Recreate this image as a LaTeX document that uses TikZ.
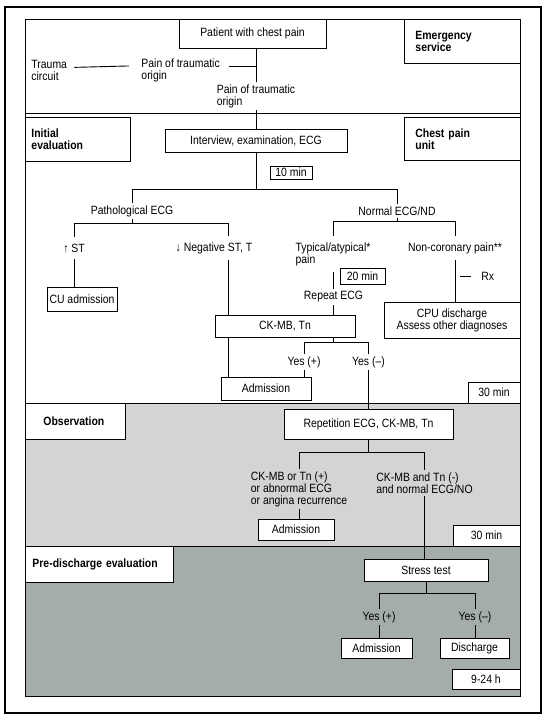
\documentclass[tikz,border=0pt]{standalone}
\usepackage{fontspec}
\setmainfont{Liberation Sans}[FakeStretch=0.87]
\definecolor{obsgray}{RGB}{212,212,212}
\definecolor{predark}{RGB}{165,173,171}
\newcommand{\flowfont}{\fontsize{12}{12}\selectfont}
\begin{document}
\begin{tikzpicture}[x=1pt, y=-1pt, line width=0.9pt,
    every node/.style={font=\flowfont},
    box/.style={draw, fill=white, inner sep=1pt, align=center},
    lbl/.style={inner sep=2pt, align=left},
    gap/.style={inner xsep=2pt, inner ysep=6pt, align=left},
    stage/.style={draw, fill=white, font=\flowfont\bfseries, align=left, anchor=north west, inner ysep=0pt}]
      \useasboundingbox (0,0) rectangle (547,722);
      \fill[white] (0,0) rectangle (547,722);
      \draw[fill=obsgray] (25,403) rectangle (520,546);
      \draw[fill=predark] (25,546) rectangle (520,696);
      \draw (25,19) rectangle (520,696);
      \draw[line width=1.8pt] (5,7) rectangle (541,713);
      \draw (25,113) -- (520,113);

      \node[stage, text width=94pt, inner xsep=11pt, minimum height=44pt](emerg) at (404.00, 19.00){Emergency\\service};
      \node[stage, text width=93pt, inner xsep=6pt, minimum height=44pt](initial) at (25.00,117.00){Initial\\evaluation};
      \node[stage, text width=94pt, inner xsep=11pt, minimum height=43pt](cpunit) at (404.00,117.00){Chest pain\\unit};
      \node[stage, text width=64pt, inner xsep=18pt, minimum height=36pt](observ) at (25.00,403.00){Observation};
      \node[stage, text width=134pt, inner xsep=7pt, minimum height=36pt](predis) at (25.00,546.00){Pre-discharge evaluation};

      \node[box, minimum width=147pt, minimum height=29pt](patient) at (252.50, 33.50){Patient with chest pain};
      \node[box, minimum width=182pt, minimum height=23pt](interview) at (256.00,140.50){Interview, examination, ECG};
      \node[box, minimum width=42pt, minimum height=13pt, inner sep=0pt](tenmin) at (291.00,172.50){10 min};
      \node[box, minimum width=70pt, minimum height=24pt](cuadm) at (82.00,299.00){CU admission};
      \node[box, minimum width=45pt, minimum height=16pt](twentymin) at (362.50,276.00){20 min};
      \node[box, minimum width=140pt, minimum height=22pt](ckmb) at (285.00,326.00){CK-MB, Tn};
      \node[box, minimum width=136pt, minimum height=36pt](cpudis) at (452.00,320.00){CPU discharge\\Assess other diagnoses};
      \node[box, minimum width=90pt, minimum height=23pt](admA) at (266.00,388.50){Admission};
      \node[box, minimum width=52pt, minimum height=21pt](thirtyA) at (494.00,392.50){30 min};
      \node[box, minimum width=169pt, minimum height=30pt](repet) at (368.50,424.00){Repetition ECG, CK-MB, Tn};
      \node[box, minimum width=76pt, minimum height=21pt](admB) at (296.00,529.50){Admission};
      \node[box, minimum width=67pt, minimum height=21pt](thirtyB) at (486.50,535.50){30 min};
      \node[box, minimum width=124pt, minimum height=22pt](stress) at (426.00,570.00){Stress test};
      \node[box, minimum width=71pt, minimum height=20pt](admC) at (376.50,648.00){Admission};
      \node[box, minimum width=69pt, minimum height=20pt](discharge) at (474.50,648.00){Discharge};
      \node[box, minimum width=68pt, minimum height=20pt](ninetf) at (486.00,679.00){9-24 h};

      \node[lbl, anchor=west](trauma) at (29.00, 70.00){Trauma\\circuit};
      \node[lbl, anchor=west](paintra) at (139.00, 70.00){Pain of traumatic\\origin};
      \node[lbl](paintrb) at (256.00, 96.00){Pain of traumatic\\origin};
      \node[lbl](patho) at (132.00,211.00){Pathological ECG};
      \node[lbl](normal) at (397.00,211.00){Normal ECG/ND};
      \node[gap](stup) at (74.00,248.00){↑ ST};
      \node[gap](stdown) at (214.00,248.00){↓ Negative ST, T};
      \node[gap](typical) at (333.00,254.00){Typical/atypical*\\pain};
      \node[gap](noncor) at (455.00,248.00){Non-coronary pain**};
      \node[lbl, anchor=west](rx) at (479.00,276.00){Rx};
      \node[lbl](repeat) at (333.50,297.00){Repeat ECG};
      \node[lbl](yespA) at (304.00,362.00){Yes (+)};
      \node[lbl](yesmA) at (368.50,362.00){Yes (–)};
      \node[lbl](ckpos) at (299.00,489.00){CK-MB or Tn (+)\\or abnormal ECG\\or angina recurrence};
      \node[lbl](ckneg) at (424.50,483.00){CK-MB and Tn (-)\\and normal ECG/NO};
      \node[lbl](yespB) at (379.00,617.00){Yes (+)};
      \node[lbl](yesmB) at (475.00,617.00){Yes (–)};

      \draw (patient.south -| paintrb) -- (paintrb.north);
      \draw ([xshift=5pt,yshift=-10pt]trauma.north east) -- ([xshift=-10pt,yshift=-10pt]paintra.north west);
      \draw ([xshift=7pt,yshift=-10pt]paintra.north east) -- ([yshift=-10pt]paintra.north east -| paintrb.north);
      \draw (paintrb.south) -- (interview.north);
      \draw (interview.south) -- ++(0,37) -| (patho.north);
      \draw (interview.south) ++(0,37) -| (normal.north);
      \draw (patho.south) -- ++(0,4) -| (stup.north);
      \draw (patho.south) ++(0,4) -| ([xshift=14pt]stdown.north);
      \draw (normal.south) -- ++(0,4) -| (typical.north);
      \draw (normal.south) ++(0,4) -| (noncor.north);
      \draw (stup.south) -- (stup.south |- cuadm.north);
      \draw ([xshift=14pt]stdown.south) -- ([xshift=14pt]stdown.south |- ckmb.north);
      \draw (typical.south) -- (typical.south |- repeat.north);
      \draw (repeat.south) -- (repeat.south |- ckmb.north);
      \draw (noncor.south) -- (noncor.south |- cpudis.north);
      \draw ([xshift=-8pt]rx.west) -- ++(-11,0);
      \draw ([xshift=14pt]ckmb.south west) -- ([xshift=14pt]ckmb.south west |- admA.north);
      \draw (ckmb.south -| repeat) -- ++(0,5) -| (yespA.north);
      \draw (ckmb.south -| repeat) ++(0,5) -| (yesmA.north);
      \draw (yespA.south) -- (yespA.south |- admA.north);
      \draw (yesmA.south) -- (yesmA.south |- repet.north);
      \draw (repet.south) -- ++(0,13) -| (ckpos.north);
      \draw (repet.south) ++(0,13) -| (ckneg.north);
      \draw (ckpos.south) -- (ckpos.south |- admB.north);
      \draw (ckneg.south) -- (ckneg.south |- stress.north);
      \draw (stress.south) -- ++(0,12) -| (yespB.north);
      \draw (stress.south) ++(0,12) -| (yesmB.north);
      \draw (yespB.south) -- (yespB.south |- admC.north);
      \draw (yesmB.south) -- (yesmB.south |- discharge.north);
    \end{tikzpicture}
\end{document}
